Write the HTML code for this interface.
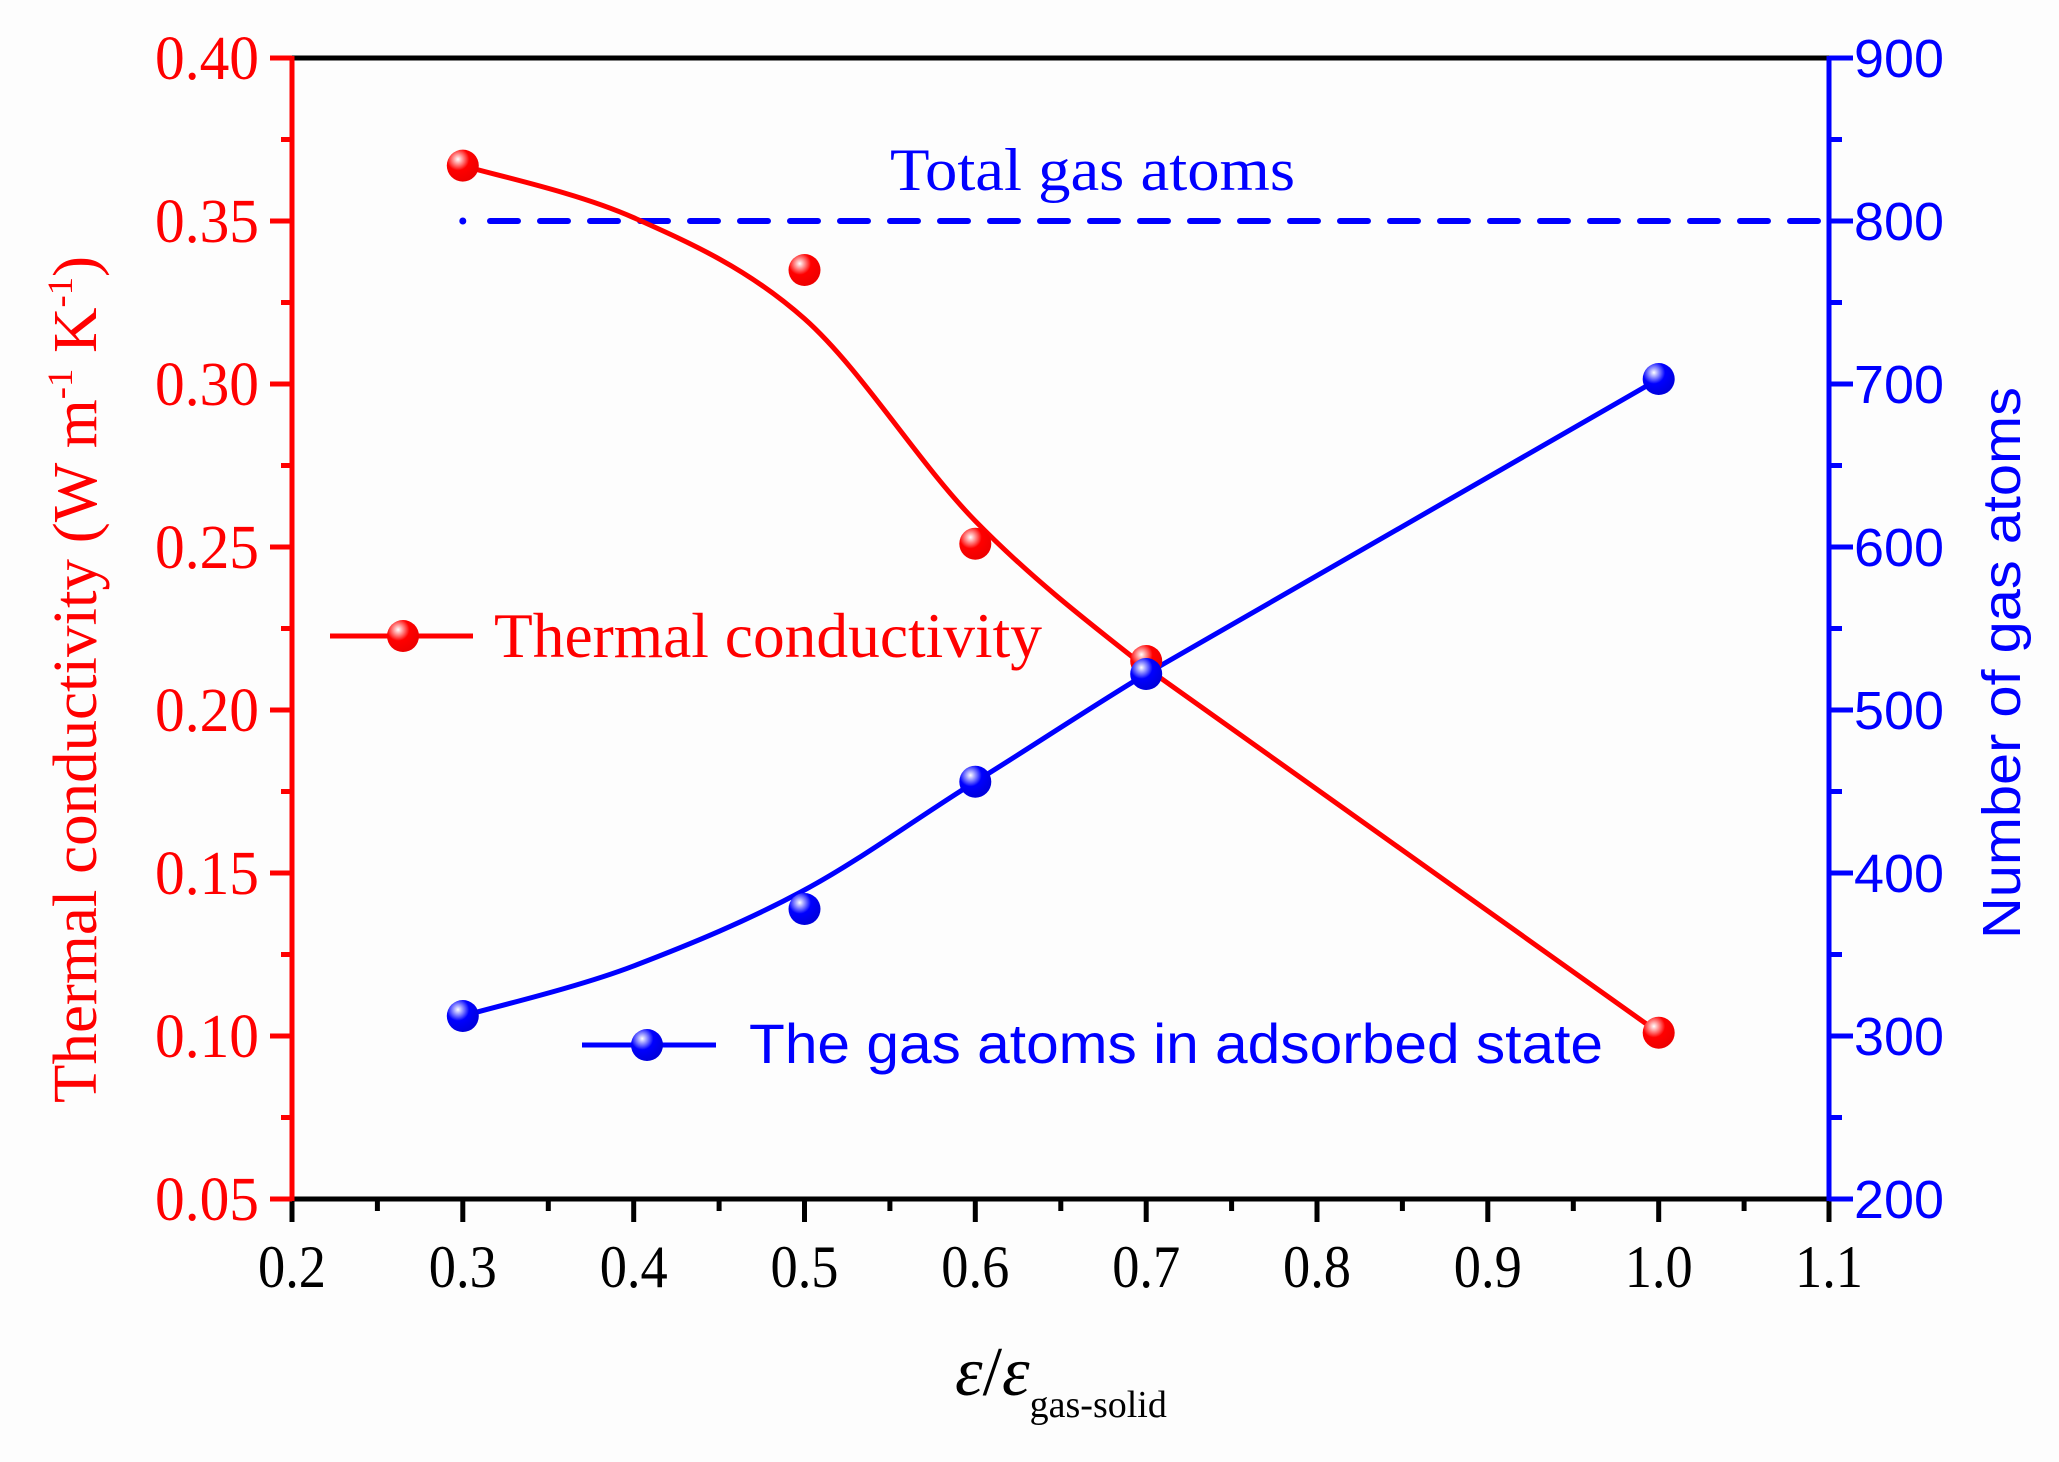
<!DOCTYPE html>
<html><head><meta charset="utf-8"><style>
html,body{margin:0;padding:0;background:#fdfdfd;}
svg{display:block;}
.s{font-family:"Liberation Serif",serif;}
.a{font-family:"Liberation Sans",sans-serif;}
</style></head><body>
<svg width="2059" height="1462" viewBox="0 0 2059 1462" xmlns="http://www.w3.org/2000/svg">
<defs>
<radialGradient id="rg" cx="0.35" cy="0.3" r="0.7">
<stop offset="0" stop-color="#fff"/><stop offset="0.25" stop-color="#ff8080"/><stop offset="0.5" stop-color="#f00"/><stop offset="1" stop-color="#e00"/>
</radialGradient>
<radialGradient id="bg" cx="0.35" cy="0.3" r="0.7">
<stop offset="0" stop-color="#fff"/><stop offset="0.25" stop-color="#8080ff"/><stop offset="0.5" stop-color="#00f"/><stop offset="1" stop-color="#00d"/>
</radialGradient>
</defs>
<line x1="292" y1="58" x2="1829" y2="58" stroke="#000" stroke-width="5"/>
<line x1="292" y1="1199" x2="1829" y2="1199" stroke="#000" stroke-width="5"/>
<g stroke="#000" stroke-width="5">
<line x1="292" y1="1199" x2="292" y2="1222"/><line x1="377.4" y1="1199" x2="377.4" y2="1211"/>
<line x1="462.8" y1="1199" x2="462.8" y2="1222"/><line x1="548.3" y1="1199" x2="548.3" y2="1211"/>
<line x1="633.7" y1="1199" x2="633.7" y2="1222"/><line x1="719.1" y1="1199" x2="719.1" y2="1211"/>
<line x1="804.5" y1="1199" x2="804.5" y2="1222"/><line x1="889.9" y1="1199" x2="889.9" y2="1211"/>
<line x1="975.3" y1="1199" x2="975.3" y2="1222"/><line x1="1060.8" y1="1199" x2="1060.8" y2="1211"/>
<line x1="1146.2" y1="1199" x2="1146.2" y2="1222"/><line x1="1231.6" y1="1199" x2="1231.6" y2="1211"/>
<line x1="1317" y1="1199" x2="1317" y2="1222"/><line x1="1402.4" y1="1199" x2="1402.4" y2="1211"/>
<line x1="1487.8" y1="1199" x2="1487.8" y2="1222"/><line x1="1573.3" y1="1199" x2="1573.3" y2="1211"/>
<line x1="1658.7" y1="1199" x2="1658.7" y2="1222"/><line x1="1744.1" y1="1199" x2="1744.1" y2="1211"/>
<line x1="1829" y1="1199" x2="1829" y2="1222"/>
</g>
<g class="s" font-size="60" fill="#000" text-anchor="middle">
<text x="292" y="1287" textLength="68" lengthAdjust="spacingAndGlyphs">0.2</text><text x="462.8" y="1287" textLength="68" lengthAdjust="spacingAndGlyphs">0.3</text><text x="633.7" y="1287" textLength="68" lengthAdjust="spacingAndGlyphs">0.4</text>
<text x="804.5" y="1287" textLength="68" lengthAdjust="spacingAndGlyphs">0.5</text><text x="975.3" y="1287" textLength="68" lengthAdjust="spacingAndGlyphs">0.6</text><text x="1146.2" y="1287" textLength="68" lengthAdjust="spacingAndGlyphs">0.7</text>
<text x="1317" y="1287" textLength="68" lengthAdjust="spacingAndGlyphs">0.8</text><text x="1487.8" y="1287" textLength="68" lengthAdjust="spacingAndGlyphs">0.9</text><text x="1658.7" y="1287" textLength="68" lengthAdjust="spacingAndGlyphs">1.0</text>
<text x="1829" y="1287" textLength="68" lengthAdjust="spacingAndGlyphs">1.1</text>
</g>
<line x1="292" y1="56" x2="292" y2="1201" stroke="#f00" stroke-width="5"/>
<g stroke="#f00" stroke-width="5">
<line x1="270" y1="58" x2="292" y2="58"/><line x1="281" y1="139.5" x2="292" y2="139.5"/>
<line x1="270" y1="221" x2="292" y2="221"/><line x1="281" y1="302.5" x2="292" y2="302.5"/>
<line x1="270" y1="384" x2="292" y2="384"/><line x1="281" y1="465.5" x2="292" y2="465.5"/>
<line x1="270" y1="547" x2="292" y2="547"/><line x1="281" y1="628.5" x2="292" y2="628.5"/>
<line x1="270" y1="710" x2="292" y2="710"/><line x1="281" y1="791.5" x2="292" y2="791.5"/>
<line x1="270" y1="873" x2="292" y2="873"/><line x1="281" y1="954.5" x2="292" y2="954.5"/>
<line x1="270" y1="1036" x2="292" y2="1036"/><line x1="281" y1="1117.5" x2="292" y2="1117.5"/>
<line x1="270" y1="1199" x2="292" y2="1199"/>
</g>
<g class="s" font-size="62" fill="#f00" text-anchor="end">
<text x="259" y="79" textLength="104" lengthAdjust="spacingAndGlyphs">0.40</text><text x="259" y="242" textLength="104" lengthAdjust="spacingAndGlyphs">0.35</text><text x="259" y="405" textLength="104" lengthAdjust="spacingAndGlyphs">0.30</text>
<text x="259" y="568" textLength="104" lengthAdjust="spacingAndGlyphs">0.25</text><text x="259" y="731" textLength="104" lengthAdjust="spacingAndGlyphs">0.20</text><text x="259" y="894" textLength="104" lengthAdjust="spacingAndGlyphs">0.15</text>
<text x="259" y="1057" textLength="104" lengthAdjust="spacingAndGlyphs">0.10</text><text x="259" y="1220" textLength="104" lengthAdjust="spacingAndGlyphs">0.05</text>
</g>
<text class="s" font-size="62" fill="#f00" transform="translate(96,1103) rotate(-90)" textLength="847" lengthAdjust="spacingAndGlyphs">Thermal conductivity (W m<tspan dy="-24" font-size="36">-1</tspan><tspan dy="24"> K</tspan><tspan dy="-24" font-size="36">-1</tspan><tspan dy="24">)</tspan></text>
<line x1="1829" y1="56" x2="1829" y2="1201" stroke="#00f" stroke-width="5"/>
<g stroke="#00f" stroke-width="5">
<line x1="1829" y1="58" x2="1853" y2="58"/><line x1="1829" y1="139.5" x2="1842" y2="139.5"/>
<line x1="1829" y1="221" x2="1853" y2="221"/><line x1="1829" y1="302.5" x2="1842" y2="302.5"/>
<line x1="1829" y1="384" x2="1853" y2="384"/><line x1="1829" y1="465.5" x2="1842" y2="465.5"/>
<line x1="1829" y1="547" x2="1853" y2="547"/><line x1="1829" y1="628.5" x2="1842" y2="628.5"/>
<line x1="1829" y1="710" x2="1853" y2="710"/><line x1="1829" y1="791.5" x2="1842" y2="791.5"/>
<line x1="1829" y1="873" x2="1853" y2="873"/><line x1="1829" y1="954.5" x2="1842" y2="954.5"/>
<line x1="1829" y1="1036" x2="1853" y2="1036"/><line x1="1829" y1="1117.5" x2="1842" y2="1117.5"/>
<line x1="1829" y1="1199" x2="1853" y2="1199"/>
</g>
<g class="a" font-size="54" fill="#00f">
<text x="1854" y="77" textLength="90" lengthAdjust="spacingAndGlyphs">900</text><text x="1854" y="240" textLength="90" lengthAdjust="spacingAndGlyphs">800</text><text x="1854" y="403" textLength="90" lengthAdjust="spacingAndGlyphs">700</text>
<text x="1854" y="566" textLength="90" lengthAdjust="spacingAndGlyphs">600</text><text x="1854" y="729" textLength="90" lengthAdjust="spacingAndGlyphs">500</text><text x="1854" y="892" textLength="90" lengthAdjust="spacingAndGlyphs">400</text>
<text x="1854" y="1055" textLength="90" lengthAdjust="spacingAndGlyphs">300</text><text x="1854" y="1218" textLength="90" lengthAdjust="spacingAndGlyphs">200</text>
</g>
<text class="a" font-size="54" fill="#00f" transform="translate(2020,939) rotate(-90)" textLength="552" lengthAdjust="spacingAndGlyphs">Number of gas atoms</text>
<text class="s" x="955" y="1395" font-size="70" font-style="italic" fill="#000">ε<tspan font-style="normal">/</tspan>ε<tspan font-size="38" font-style="normal" dy="22">gas-solid</tspan></text>
<circle cx="462.8" cy="221" r="3.5" fill="#00f"/>
<line x1="490" y1="221" x2="1829" y2="221" stroke="#00f" stroke-width="6" stroke-dasharray="28 22" stroke-linecap="round"/>
<text class="s" x="890" y="190" font-size="60" fill="#00f" textLength="405" lengthAdjust="spacingAndGlyphs">Total gas atoms</text>
<path d="M462.8,165.6 C491.3,174.3 576.7,192.2 633.7,217.7 C690.7,243.2 747.6,268.3 804.5,318.8 C861.4,369.4 918.4,462.9 975.3,521 C1032.2,579.1 1089.1,622.9 1146,667.6 L1658.7,1032.7" fill="none" stroke="#f00" stroke-width="5"/>
<path d="M462.8,1016 C491.3,1007.6 576.7,987.7 633.7,965.9 C690.7,944.1 747.6,920.7 804.5,890 C861.4,859.3 918.4,816.9 975.3,781.7 C1032.2,746.5 1089.1,708.3 1146,674 L1658.7,379" fill="none" stroke="#00f" stroke-width="5"/>
<g fill="url(#rg)">
<circle cx="462.8" cy="165.6" r="16"/><circle cx="804.5" cy="270" r="16"/><circle cx="975.3" cy="543.7" r="16"/>
<circle cx="1146.2" cy="661" r="16"/><circle cx="1658.7" cy="1032.7" r="16"/>
</g>
<g fill="url(#bg)">
<circle cx="462.8" cy="1016" r="16"/><circle cx="804.5" cy="909" r="16"/><circle cx="975.3" cy="781.7" r="16"/>
<circle cx="1146.2" cy="674" r="16"/><circle cx="1658.7" cy="379" r="16"/>
</g>
<line x1="330" y1="636" x2="473" y2="636" stroke="#f00" stroke-width="5"/>
<circle cx="403" cy="636" r="16" fill="url(#rg)"/>
<text class="s" x="494" y="657" font-size="64" fill="#f00" textLength="548" lengthAdjust="spacingAndGlyphs">Thermal conductivity</text>
<line x1="582" y1="1045" x2="716" y2="1045" stroke="#00f" stroke-width="5"/>
<circle cx="647" cy="1045" r="16" fill="url(#bg)"/>
<text class="a" x="749" y="1063" font-size="56" fill="#00f" textLength="854" lengthAdjust="spacingAndGlyphs">The gas atoms in adsorbed state</text>
</svg>
</body></html>
